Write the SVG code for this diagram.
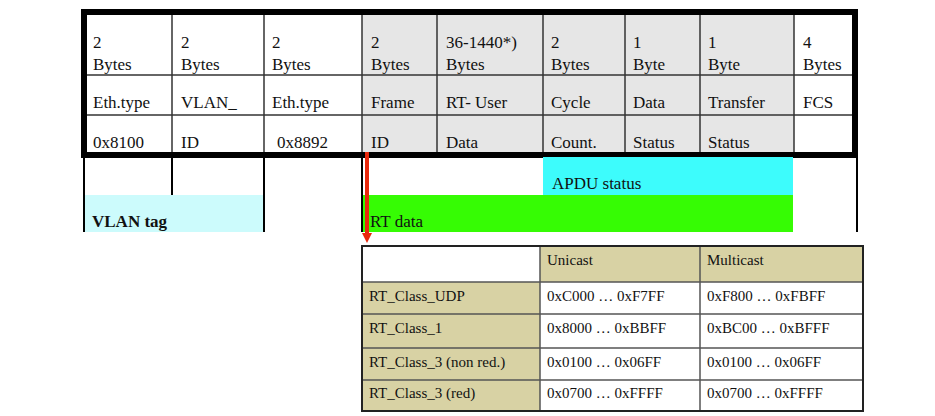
<svg xmlns="http://www.w3.org/2000/svg" width="935" height="416" viewBox="0 0 935 416">
<style>
text{font-family:"Liberation Serif",serif;font-size:17px;fill:#111}
.t{font-size:15px}
.g{stroke:#333;stroke-width:1.5}
.k{stroke:#000;stroke-width:2}
.c{stroke:#555;stroke-width:1.5}
</style>
<defs><marker id="ar" markerWidth="10" markerHeight="10" refX="5" refY="5" orient="auto" markerUnits="userSpaceOnUse"><path d="M0,0 L10,5 L0,10 z" fill="#e8280c"/></marker></defs>
<rect width="935" height="416" fill="#fff"/>
<g id="frame">
<rect x="362" y="12" width="432" height="143" fill="#e6e6e6"/>
<g class="g">
<line x1="84" y1="75" x2="855" y2="75"/><line x1="84" y1="115" x2="855" y2="115"/>
<line x1="172" y1="12" x2="172" y2="155"/><line x1="264" y1="12" x2="264" y2="155"/>
<line x1="362" y1="12" x2="362" y2="155"/><line x1="437" y1="12" x2="437" y2="155"/>
<line x1="543" y1="12" x2="543" y2="155"/><line x1="625" y1="12" x2="625" y2="155"/>
<line x1="700" y1="12" x2="700" y2="155"/><line x1="794" y1="12" x2="794" y2="155"/>
</g>
<rect x="84" y="12" width="771" height="143" fill="none" stroke="#000" stroke-width="6"/>
<text x="93" y="48">2</text><text x="93" y="70">Bytes</text>
<text x="181" y="48">2</text><text x="181" y="70">Bytes</text>
<text x="272" y="48">2</text><text x="272" y="70">Bytes</text>
<text x="371" y="48">2</text><text x="371" y="70">Bytes</text>
<text x="446" y="48">36-1440*)</text><text x="446" y="70">Bytes</text>
<text x="551" y="48">2</text><text x="551" y="70">Bytes</text>
<text x="633" y="48">1</text><text x="633" y="70">Byte</text>
<text x="708" y="48">1</text><text x="708" y="70">Byte</text>
<text x="803" y="48">4</text><text x="803" y="70">Bytes</text>
<text x="93" y="108">Eth.type</text><text x="181" y="108">VLAN_</text><text x="272" y="108">Eth.type</text>
<text x="371" y="108">Frame</text><text x="446" y="108">RT-  User</text><text x="551" y="108">Cycle</text>
<text x="633" y="108">Data</text><text x="708" y="108">Transfer</text><text x="803" y="108">FCS</text>
<text x="93" y="148">0x8100</text><text x="181" y="148">ID</text><text x="277" y="148">0x8892</text>
<text x="371" y="148">ID</text><text x="446" y="148">Data</text><text x="551" y="148">Count.</text>
<text x="633" y="148">Status</text><text x="708" y="148">Status</text>
</g>
<g id="bands">
<rect x="84" y="195" width="180" height="37" fill="#ccfbfc"/>
<rect x="543" y="157" width="250" height="38" fill="#3dfcfc"/>
<rect x="362" y="195" width="431" height="37" fill="#36fc04"/>
<g class="k"><line x1="84" y1="155" x2="84" y2="232"/><line x1="172" y1="155" x2="172" y2="195"/>
<line x1="264" y1="155" x2="264" y2="232"/><line x1="362" y1="155" x2="362" y2="232"/><line x1="857" y1="155" x2="857" y2="232"/></g>
<text x="92" y="227" font-weight="bold">VLAN tag</text>
<text x="552" y="189">APDU status</text>
<text x="370" y="227">RT data</text>
</g>
<g id="connectors">
<line x1="367" y1="152" x2="367" y2="238" stroke="#e8280c" stroke-width="4" marker-end="url(#ar)"/>
</g>
<g id="table">
<rect x="540" y="246" width="323" height="36" fill="#d8d2a4"/>
<rect x="362" y="282" width="178" height="129" fill="#d8d2a4"/>
<g class="c">
<line x1="362" y1="282" x2="863" y2="282"/><line x1="362" y1="314" x2="863" y2="314"/>
<line x1="362" y1="348" x2="863" y2="348"/><line x1="362" y1="380" x2="863" y2="380"/>
<line x1="540" y1="246" x2="540" y2="411"/><line x1="700" y1="246" x2="700" y2="411"/>
</g>
<rect x="362" y="246" width="501" height="165" fill="none" stroke="#222" stroke-width="2"/>
<text class="t" x="547" y="265">Unicast</text><text class="t" x="707" y="265">Multicast</text>
<text class="t" x="369" y="301">RT_Class_UDP</text><text class="t" x="547" y="301">0xC000 … 0xF7FF</text><text class="t" x="707" y="301">0xF800 … 0xFBFF</text>
<text class="t" x="369" y="333">RT_Class_1</text><text class="t" x="547" y="333">0x8000 … 0xBBFF</text><text class="t" x="707" y="333">0xBC00 … 0xBFFF</text>
<text class="t" x="369" y="367">RT_Class_3 (non red.)</text><text class="t" x="547" y="367">0x0100 … 0x06FF</text><text class="t" x="707" y="367">0x0100 … 0x06FF</text>
<text class="t" x="369" y="398">RT_Class_3 (red)</text><text class="t" x="547" y="398">0x0700 … 0xFFFF</text><text class="t" x="707" y="398">0x0700 … 0xFFFF</text>
</g>
</svg>
